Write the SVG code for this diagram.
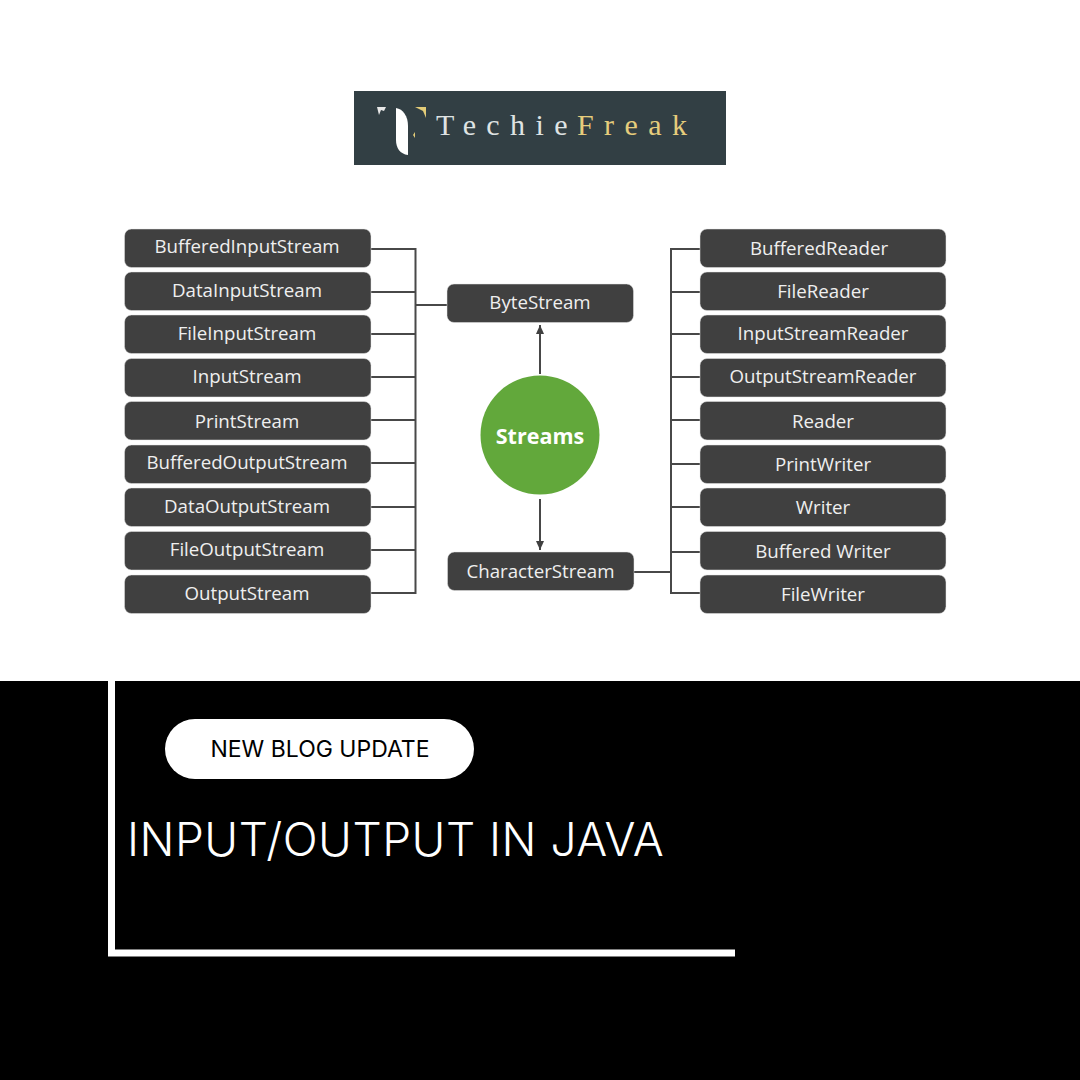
<svg xmlns="http://www.w3.org/2000/svg" width="1080" height="1080" viewBox="0 0 1080 1080">
<defs>
<style>
.n{fill:#404040;stroke:#e4e4e4;stroke-width:.5}
.t{font-family:"Open Sans","Noto Sans",sans-serif;font-size:18.7px;fill:#efefef;text-anchor:middle}
.c{fill:none;stroke:#484848;stroke-width:2}
.l{font-family:"Liberation Serif",serif;font-size:30px;letter-spacing:10.4px}
</style>
<marker id="a" markerWidth="10" markerHeight="8" refX="9" refY="4" orient="auto" markerUnits="userSpaceOnUse"><path d="M0 0L9 4L0 8Z" fill="#404040"/></marker>
</defs>
<rect width="1080" height="1080" fill="#fff"/>
<g id="logo">
<rect x="354" y="91" width="372" height="74" fill="#323f44"/>
<path d="M377 107H386L384 111L381 110L379 115Z" fill="#e8e8e8"/>
<path d="M415 107H426V118L423 111Z" fill="#e3cc78"/>
<path d="M396 108C403 109 408 116 408 126V155C400 154 396 148 396 140Z" fill="#fff"/>
<path d="M413 135L415 132V138Z" fill="#e3cc78"/>
<text class="l" x="436" y="135" fill="#dfe3e3">Techie</text>
<text class="l" x="577" y="135" fill="#e6cd7c">Freak</text>
</g>
<g id="connectors" class="c">
<path d="M371 249H415.500V593H371M371 292H415M371 334H415M371 377H415M371 420H415M371 463H415M371 507H415M371 550H415M415.500 305H447"/>
<path d="M700 249H671V593H700M700 292H671M700 334H671M700 377H671M700 420H671M700 464H671M700 507H671M700 552H671M634 572H671"/>
<path d="M540 374V325" marker-end="url(#a)"/>
<path d="M540 499V550" marker-end="url(#a)"/>
</g>
<g id="left-1"><rect class="n" x="124.500" y="229" width="246.500" height="38.500" rx="7"/><text class="t" x="247" y="253">BufferedInputStream</text></g>
<g id="left-2"><rect class="n" x="124.500" y="272" width="246.500" height="38.500" rx="7"/><text class="t" x="247" y="296.500">DataInputStream</text></g>
<g id="left-3"><rect class="n" x="124.500" y="315" width="246.500" height="38.500" rx="7"/><text class="t" x="247" y="339.500">FileInputStream</text></g>
<g id="left-4"><rect class="n" x="124.500" y="358.500" width="246.500" height="38.500" rx="7"/><text class="t" x="247" y="383">InputStream</text></g>
<g id="left-5"><rect class="n" x="124.500" y="401.500" width="246.500" height="38.500" rx="7"/><text class="t" x="247" y="427.500">PrintStream</text></g>
<g id="left-6"><rect class="n" x="124.500" y="445" width="246.500" height="38.500" rx="7"/><text class="t" x="247" y="469">BufferedOutputStream</text></g>
<g id="left-7"><rect class="n" x="124.500" y="488" width="246.500" height="38.500" rx="7"/><text class="t" x="247" y="512.500">DataOutputStream</text></g>
<g id="left-8"><rect class="n" x="124.500" y="531.500" width="246.500" height="38.500" rx="7"/><text class="t" x="247" y="555.500">FileOutputStream</text></g>
<g id="left-9"><rect class="n" x="124.500" y="575" width="246.500" height="38.500" rx="7"/><text class="t" x="247" y="599.500">OutputStream</text></g>
<g id="right-1"><rect class="n" x="700" y="229" width="246" height="38.500" rx="7"/><text class="t" x="819" y="255">BufferedReader</text></g>
<g id="right-2"><rect class="n" x="700" y="272" width="246" height="38.500" rx="7"/><text class="t" x="823" y="298">FileReader</text></g>
<g id="right-3"><rect class="n" x="700" y="315" width="246" height="38.500" rx="7"/><text class="t" x="823" y="340">InputStreamReader</text></g>
<g id="right-4"><rect class="n" x="700" y="358.500" width="246" height="38.500" rx="7"/><text class="t" x="823" y="383">OutputStreamReader</text></g>
<g id="right-5"><rect class="n" x="700" y="401.500" width="246" height="38.500" rx="7"/><text class="t" x="823" y="427.500">Reader</text></g>
<g id="right-6"><rect class="n" x="700" y="445" width="246" height="38.500" rx="7"/><text class="t" x="823" y="471">PrintWriter</text></g>
<g id="right-7"><rect class="n" x="700" y="488" width="246" height="38.500" rx="7"/><text class="t" x="823" y="514">Writer</text></g>
<g id="right-8"><rect class="n" x="700" y="531.500" width="246" height="38.500" rx="7"/><text class="t" x="823" y="557.500">Buffered Writer</text></g>
<g id="right-9"><rect class="n" x="700" y="575" width="246" height="38.500" rx="7"/><text class="t" x="823" y="601">FileWriter</text></g>
<g id="bytestream"><rect class="n" x="447" y="284" width="186.500" height="38.500" rx="7"/><text class="t" x="540" y="308.500">ByteStream</text></g>
<g id="characterstream"><rect class="n" x="447.500" y="552" width="186.500" height="38.500" rx="7"/><text class="t" x="540.500" y="578">CharacterStream</text></g>
<g id="streams"><circle cx="540" cy="435" r="59.500" fill="#62a83b"/><text x="540" y="444" text-anchor="middle" style="font-family:'Open Sans',sans-serif;font-size:21.500px;font-weight:700;fill:#fff">Streams</text></g>
<g id="banner">
<rect y="681" width="1080" height="399" fill="#000"/>
<path d="M111.500 681V953H735" fill="none" stroke="#fff" stroke-width="7"/>
<rect x="165" y="719" width="309" height="60" rx="30" fill="#fff"/>
<text x="320" y="757" text-anchor="middle" style="font-family:Inter,sans-serif;font-size:23px;font-weight:400;fill:#000">NEW BLOG UPDATE</text>
<text x="127" y="856" style="font-family:Inter,sans-serif;font-size:46px;font-weight:300;letter-spacing:.5px;fill:#fff">INPUT/OUTPUT IN JAVA</text>
</g>
</svg>
